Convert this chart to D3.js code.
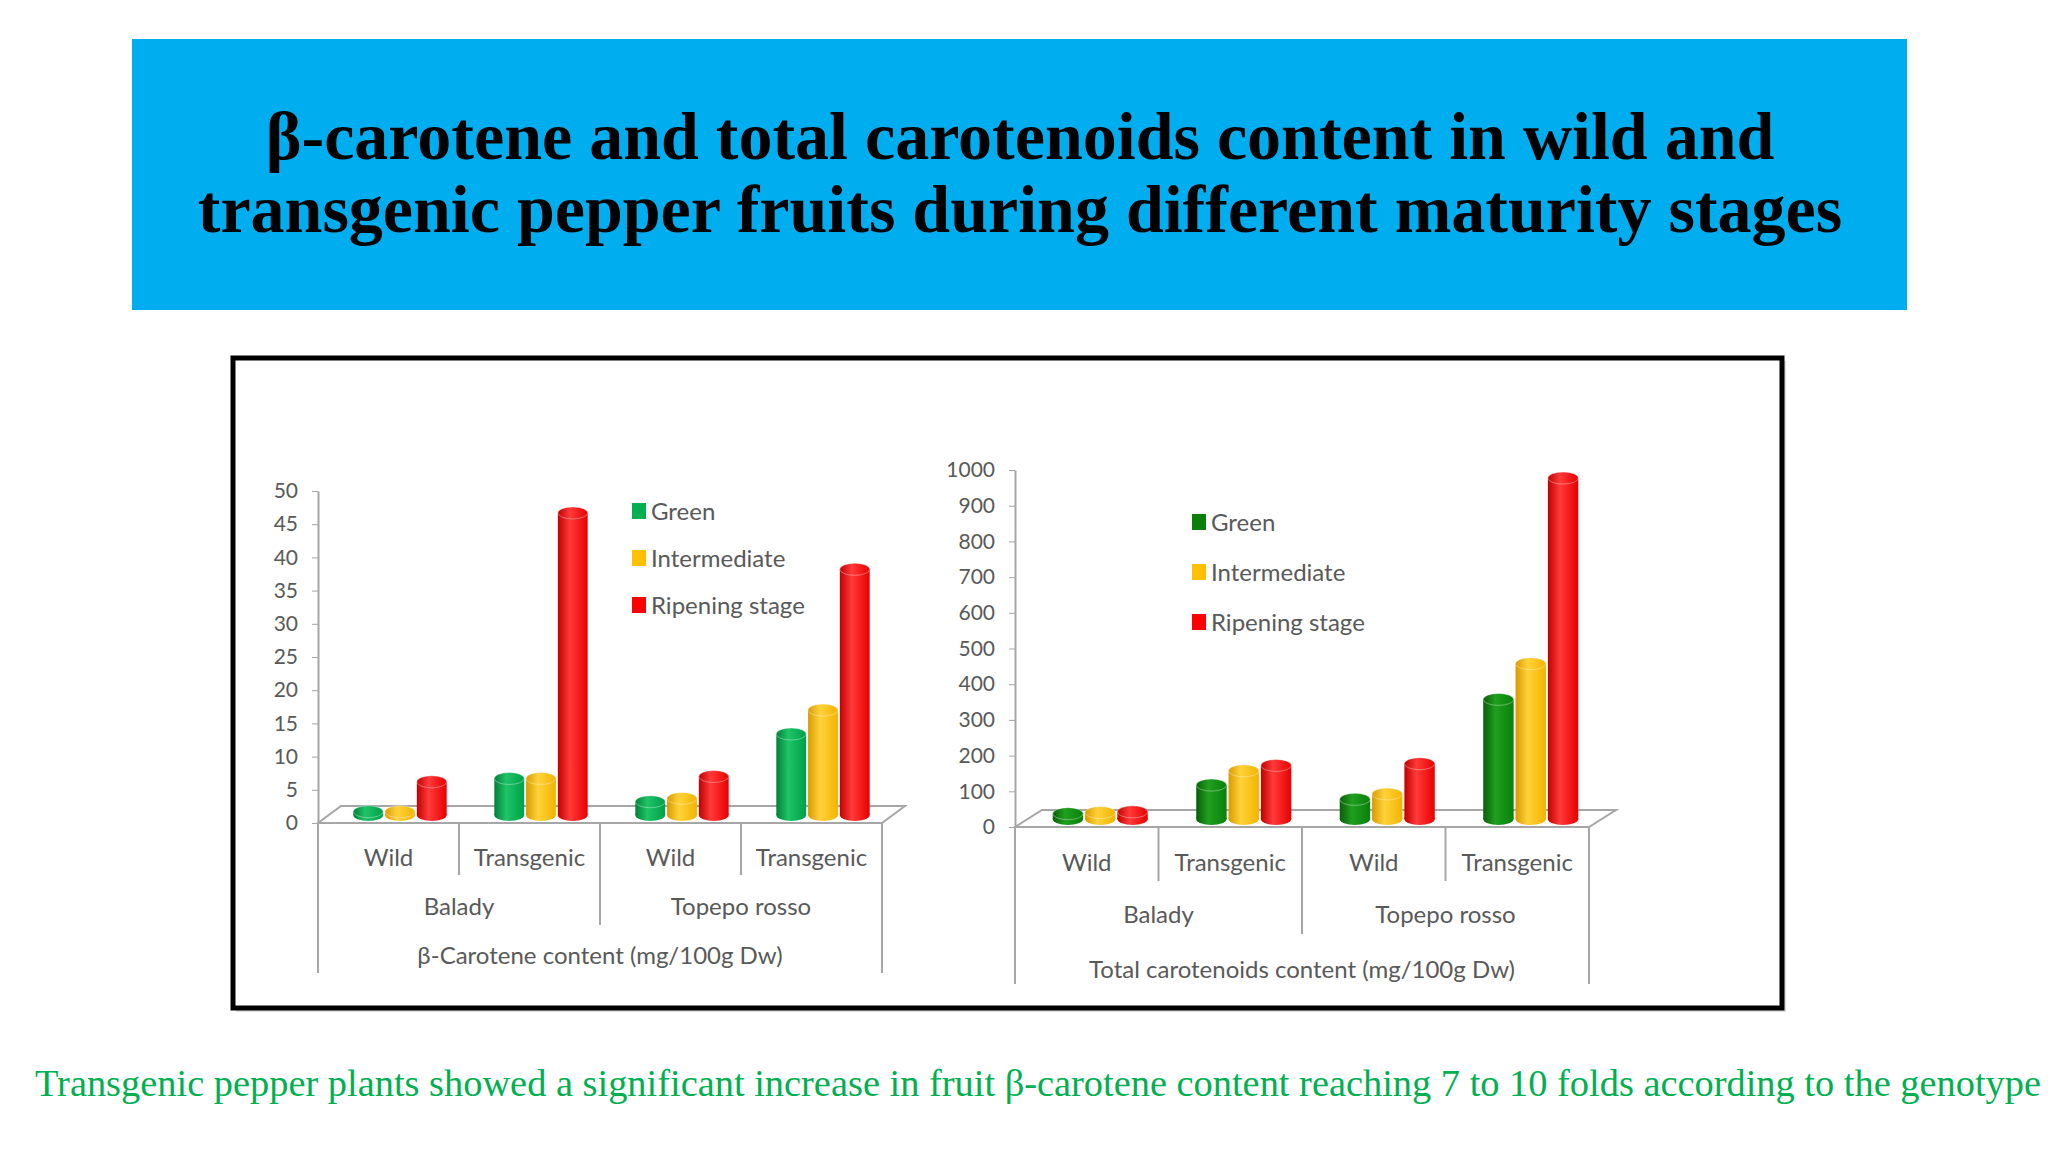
<!DOCTYPE html>
<html>
<head>
<meta charset="utf-8">
<script src="https://cdn.jsdelivr.net/npm/d3@7"></script>
<style>
body { margin: 0; background: #fff; }
svg { display: block; }
</style>
</head>
<body>
<svg id="chart" width="2048" height="1152"></svg>
<script>
// data
var categories = ["Wild", "Transgenic", "Wild", "Transgenic"];
var groups = ["Balady", "Topepo rosso"];
var stages = ["Green", "Intermediate", "Ripening stage"];
var betaGreen = [0.5, 5.5, 2, 12.2];
var betaInter = [0.5, 5.5, 2.5, 15.8];
var betaRipe = [5, 45.5, 5.8, 37];
var totalGreen = [15, 95, 55, 335];
var totalInter = [18, 135, 70, 435];
var totalRipe = [20, 150, 155, 955];
var betaTicks = [0, 5, 10, 15, 20, 25, 30, 35, 40, 45, 50];
var totalTicks = [0, 100, 200, 300, 400, 500, 600, 700, 800, 900, 1000];

var svg = d3.select("#chart");
var defs = svg.append("defs");

function gradient(id, dark, mid, light) {
    var g = defs.append("linearGradient").attr("id", id).attr("x1", "0%").attr("x2", "100%");
    g.append("stop").attr("offset", "0%").attr("stop-color", dark);
    g.append("stop").attr("offset", "40%").attr("stop-color", light);
    g.append("stop").attr("offset", "100%").attr("stop-color", mid);
}
gradient("gG1", "#00803a", "#00a04a", "#1fc466");
gradient("gG2", "#065f06", "#0a800a", "#1fa01f");
gradient("gY", "#d99a00", "#f2b400", "#ffd23a");
gradient("gR", "#c00000", "#e80000", "#ff3a3a");

// banner
svg.append("rect").attr("x", 132).attr("y", 39).attr("width", 1775).attr("height", 271).attr("fill", "#00aeef");
svg.append("text").attr("x", 1020).attr("y", 159).attr("text-anchor", "middle")
    .attr("font-family", "Liberation Serif").attr("font-weight", "bold").attr("font-size", 68)
    .text("β-carotene and total carotenoids content in wild and");
svg.append("text").attr("x", 1020).attr("y", 232).attr("text-anchor", "middle")
    .attr("font-family", "Liberation Serif").attr("font-weight", "bold").attr("font-size", 68)
    .text("transgenic pepper fruits during different maturity stages");

// frame
svg.append("rect").attr("x", 236).attr("y", 361).attr("width", 1550).attr("height", 651)
    .attr("fill", "#c8c8c8").attr("opacity", 0.6);
svg.append("rect").attr("x", 233).attr("y", 358).attr("width", 1549).attr("height", 650)
    .attr("fill", "#fff").attr("stroke", "#000").attr("stroke-width", 5);

svg.append("text").attr("x", 35).attr("y", 1096)
    .attr("font-family", "Liberation Serif").attr("font-size", 38).attr("fill", "#00b050")
    .attr("textLength", 2006).attr("lengthAdjust", "spacingAndGlyphs")
    .text("Transgenic pepper plants showed a significant increase in fruit β-carotene content reaching 7 to 10 folds according to the genotype");

function drawChart(cfg) {
    var g = svg.append("g");
    var y = d3.scaleLinear().domain([cfg.ticks[0], cfg.ticks[cfg.ticks.length - 1]]).range([cfg.y0, cfg.y1]);
    var x = d3.scaleBand().domain(d3.range(4)).range([cfg.x0, cfg.x1]);
    var inner = d3.scaleBand().domain(d3.range(3)).range([0, x.bandwidth()]).paddingInner(0.06).paddingOuter(0.75);
    var font = "Lato, 'Liberation Sans', sans-serif";
    var grey = "#595959", lineC = "#a6a6a6";

    // y axis
    var axis = d3.axisLeft(y).tickValues(cfg.ticks).tickSize(0).tickPadding(20).tickFormat(d3.format("d"));
    var ax = g.append("g").attr("transform", "translate(" + cfg.x0 + ",0)").call(axis);
    ax.select(".domain").attr("stroke", lineC).attr("stroke-width", 2);
    ax.selectAll("text").attr("font-family", font).attr("font-size", 21).attr("fill", grey);
    ax.selectAll(".tick").append("line").attr("x1", -6).attr("x2", 0).attr("stroke", lineC);

    // floor
    var d = cfg.depth;
    var floorPts = [[cfg.x0, cfg.y0], [cfg.x1, cfg.y0], [cfg.x1 + d, cfg.y0 - 17], [cfg.x0 + d, cfg.y0 - 17]];
    g.append("path").attr("d", d3.line()(floorPts) + "Z").attr("fill", "#fff").attr("stroke", lineC).attr("stroke-width", 2);

    // bars as cylinders
    var series = [cfg.s1, cfg.s2, cfg.s3];
    var fills = [cfg.greenFill, "url(#gY)", "url(#gR)"];
    var base = cfg.y0 - 8;
    series.forEach(function (vals, si) {
        vals.forEach(function (v, ci) {
            var bx = x(ci) + inner(si) + d / 2;
            var w = inner.bandwidth();
            var top = base - (cfg.y0 - y(v));
            var ry = 6;
            g.append("rect").attr("x", bx).attr("y", top).attr("width", w).attr("height", base - top)
                .attr("fill", fills[si]);
            g.append("ellipse").attr("cx", bx + w / 2).attr("cy", base).attr("rx", w / 2).attr("ry", ry).attr("fill", fills[si]);
            g.append("ellipse").attr("cx", bx + w / 2).attr("cy", top).attr("rx", w / 2).attr("ry", ry)
                .attr("fill", fills[si]).attr("stroke", "rgba(255,255,255,0.35)");
        });
    });

    // category grid below
    var bw = x.bandwidth();
    for (var i = 0; i <= 4; i++) {
        var lx = cfg.x0 + i * bw;
        var end = (i === 0 || i === 4) ? cfg.y0 + cfg.rows[2] : (i === 2 ? cfg.y0 + cfg.rows[1] : cfg.y0 + cfg.rows[0]);
        g.append("line").attr("x1", lx).attr("x2", lx).attr("y1", cfg.y0).attr("y2", end)
            .attr("stroke", lineC).attr("stroke-width", 2);
    }
    categories.forEach(function (c, i) {
        g.append("text").attr("x", x(i) + bw / 2).attr("y", cfg.labY[0]).attr("text-anchor", "middle")
            .attr("font-family", font).attr("font-size", 24).attr("fill", grey).text(c);
    });
    groups.forEach(function (c, i) {
        g.append("text").attr("x", cfg.x0 + bw * (2 * i + 1)).attr("y", cfg.labY[1]).attr("text-anchor", "middle")
            .attr("font-family", font).attr("font-size", 24).attr("fill", grey).text(c);
    });
    g.append("text").attr("x", (cfg.x0 + cfg.x1) / 2).attr("y", cfg.labY[2]).attr("text-anchor", "middle")
        .attr("font-family", font).attr("font-size", 24).attr("fill", grey).text(cfg.title);

    // legend
    stages.forEach(function (s, i) {
        var ly = cfg.legY + i * cfg.legStep;
        g.append("rect").attr("x", cfg.legX).attr("y", ly - 8).attr("width", 14).attr("height", 16).attr("fill", [cfg.legGreen, "#ffc000", "#ff0000"][i]);
        g.append("text").attr("x", cfg.legX + 19).attr("y", ly + 9).attr("font-family", font)
            .attr("font-size", 24).attr("fill", grey).text(s);
    });
}

drawChart({
    ticks: betaTicks, y0: 823, y1: 491, x0: 318, x1: 882, depth: 23,
    s1: betaGreen, s2: betaInter, s3: betaRipe, greenFill: "url(#gG1)", legGreen: "#00b050",
    title: "β-Carotene content (mg/100g Dw)", legX: 632, legY: 511, legStep: 47,
    rows: [52, 102, 150], labY: [866, 915, 964]
});
drawChart({
    ticks: totalTicks, y0: 827, y1: 470, x0: 1015, x1: 1589, depth: 27,
    s1: totalGreen, s2: totalInter, s3: totalRipe, greenFill: "url(#gG2)", legGreen: "#0a800a",
    title: "Total carotenoids content  (mg/100g Dw)", legX: 1192, legY: 522, legStep: 50,
    rows: [54, 107, 157], labY: [871, 923, 978]
});
</script>
</body>
</html>
